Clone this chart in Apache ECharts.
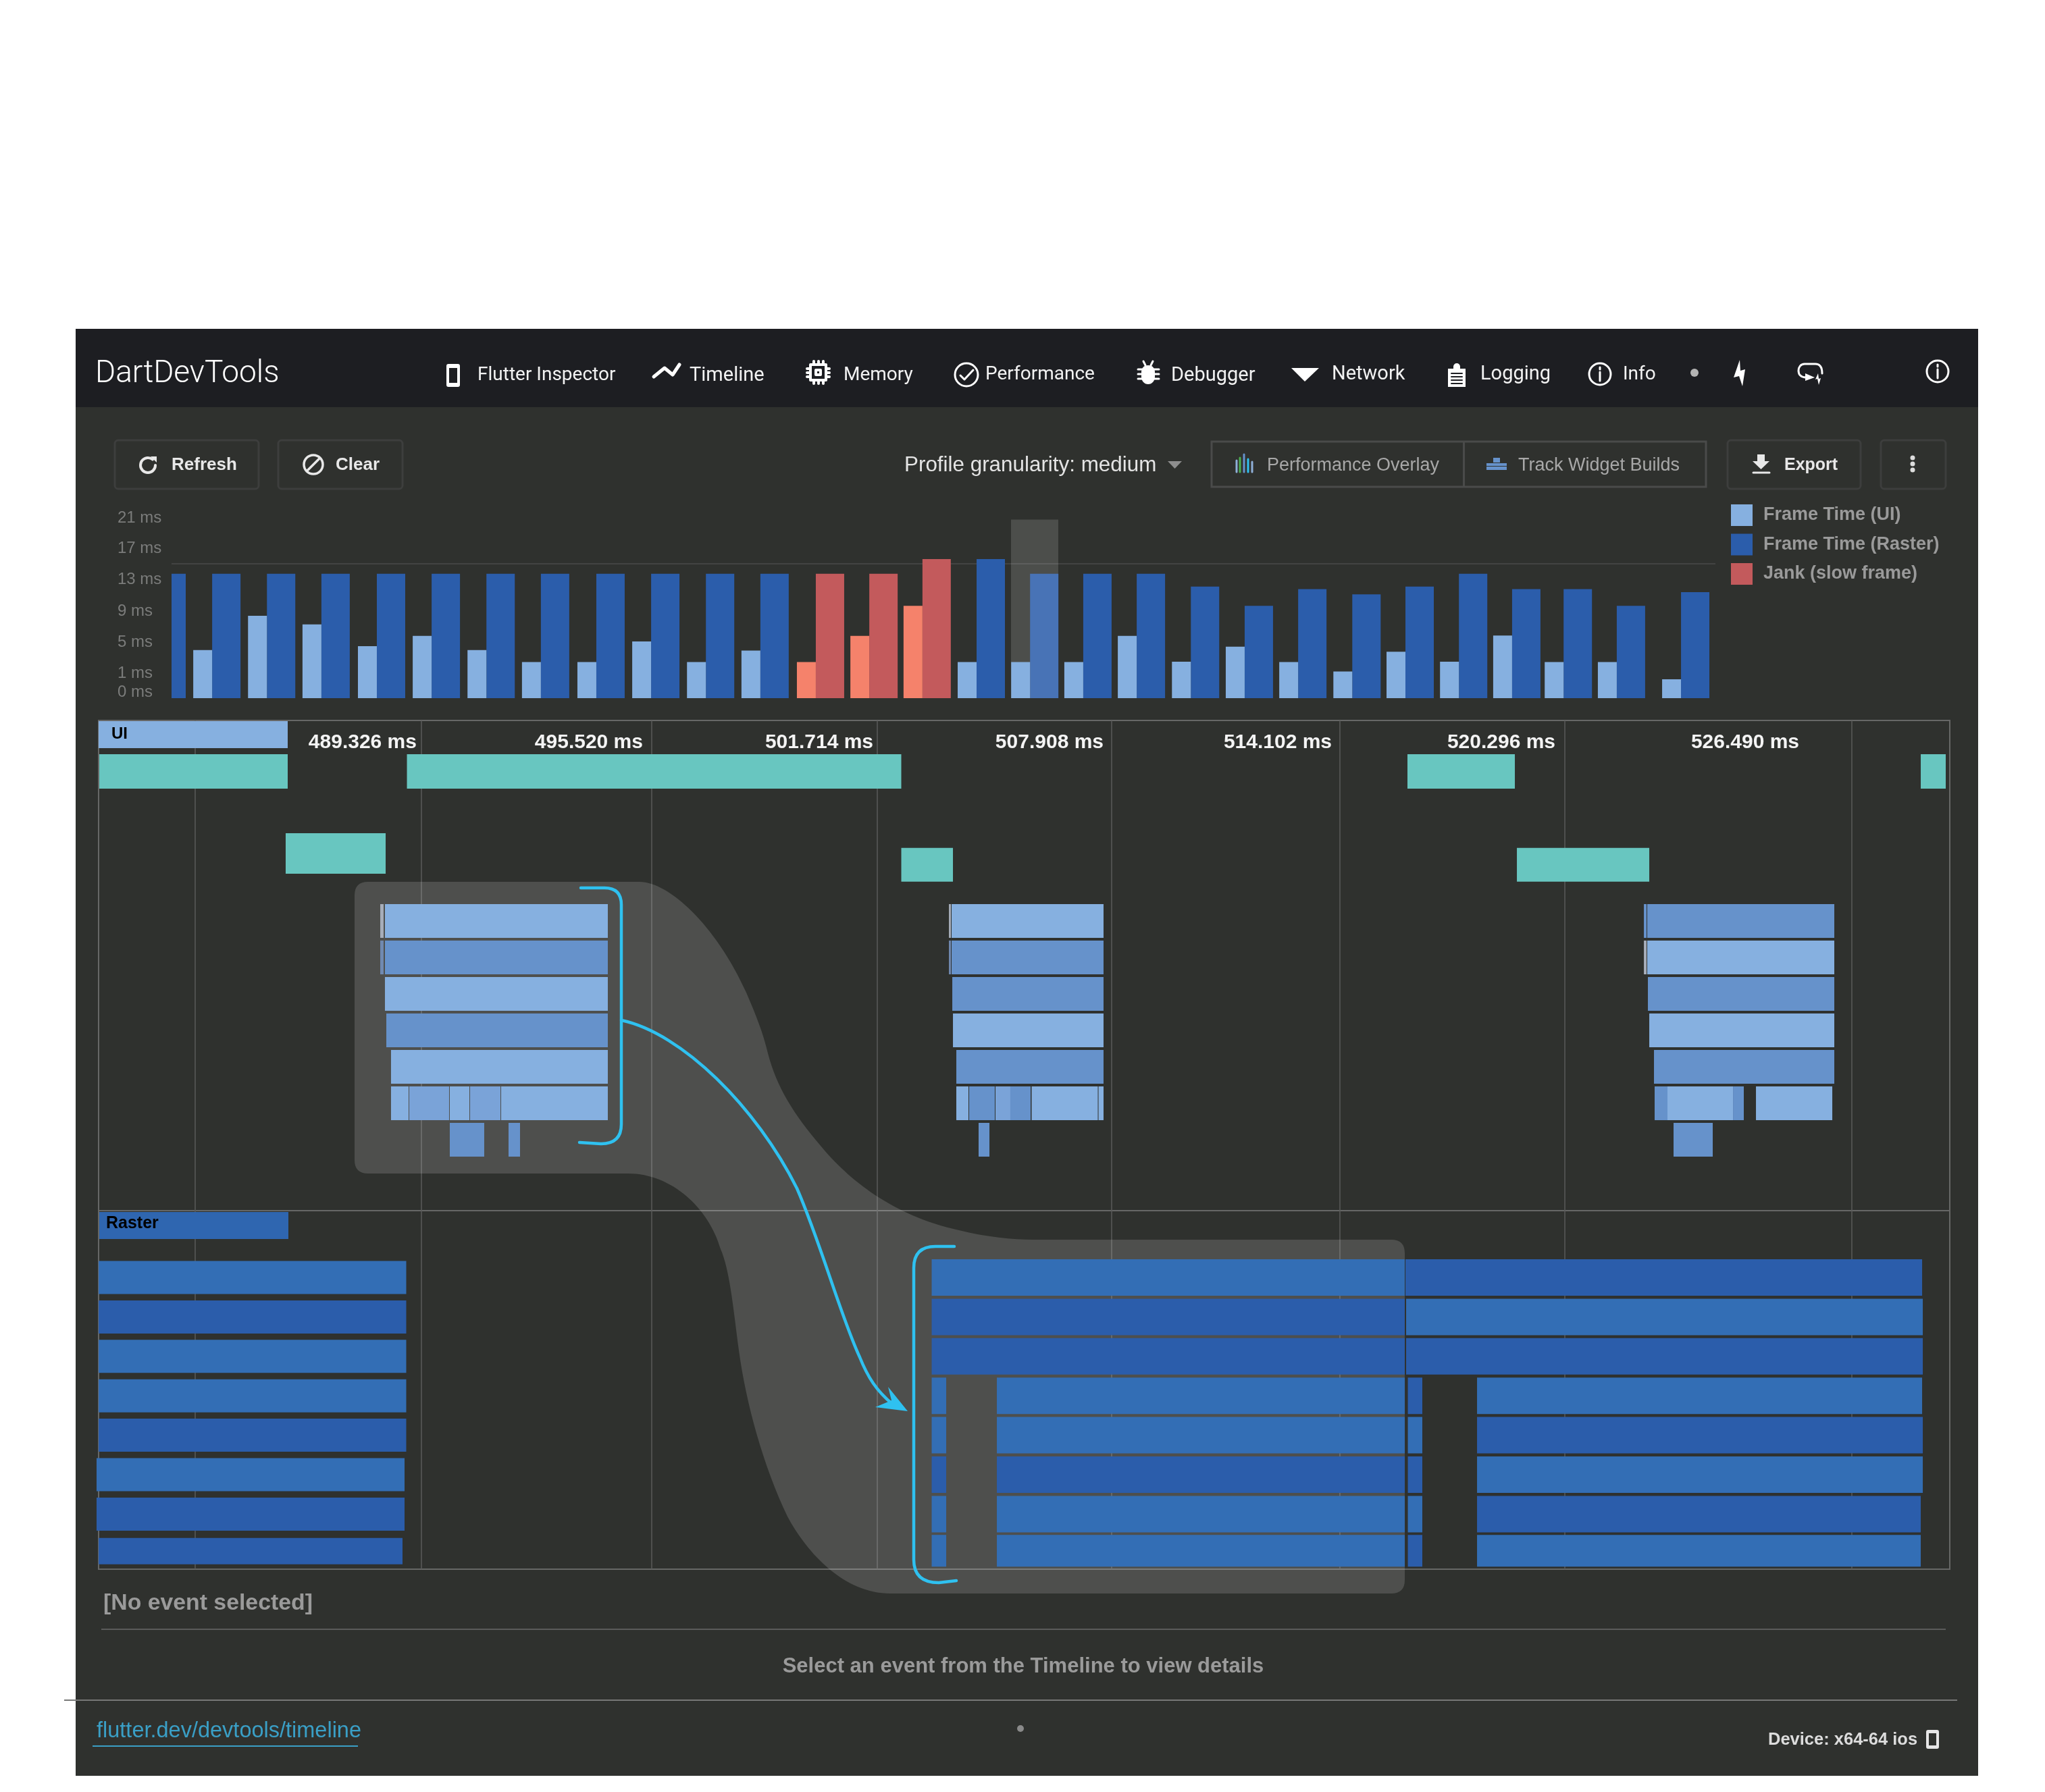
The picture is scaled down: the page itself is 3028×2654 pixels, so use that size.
<!DOCTYPE html>
<html>
<head>
<meta charset="utf-8">
<title>DartDevTools</title>
<script src="https://cdn.jsdelivr.net/npm/echarts@6/dist/echarts.min.js"></script>
<style>
html, body { margin: 0; padding: 0; background: #fff; }
#chart { width: 3028px; height: 2654px; }
</style>
</head>
<body>
<div id="chart"></div>
<script>
// frame chart
const frameStart = [13.9, 30.7, 47.4, 64.4, 81.2, 98.0, 114.7, 131.7, 148.5, 165.3, 182.0, 199.0, 215.4, 231.7,
    248.3, 264.7, 281.0, 297.4, 314.0, 330.5, 346.9, 363.5, 379.8, 396.2, 412.5, 428.3, 444.6, 464.3];
const uiTimes = [5.6, 9.6, 8.6, 6.05, 7.26, 5.6, 4.2, 4.2, 6.6, 4.2, 5.55, 4.2, 7.26, 10.75,
    4.2, 4.2, 4.2, 7.26, 4.25, 6.0, 4.2, 3.1, 5.4, 4.25, 7.3, 4.2, 4.2, 2.2];
const rasterTimes = [14.5, 14.5, 14.5, 14.5, 14.5, 14.5, 14.5, 14.5, 14.5, 14.5, 14.5, 14.5, 14.5, 16.2,
    16.2, 14.5, 14.5, 14.5, 13.0, 10.75, 12.7, 12.1, 13.0, 14.5, 12.7, 12.7, 10.75, 12.35];
const cutOffFrame = [0, 4.35, 14.5];   // raster bar cut by the left edge: start, end, time
const jankFrames = [11, 12, 13];
const selectedFrame = [257.4, 271.9];
const frameTickLabels = ['0 ms', '1 ms', '5 ms', '9 ms', '13 ms', '17 ms', '21 ms'];
const frameTickAt = [0.7, 2.9, 6.5, 10.1, 13.8, 17.4, 21];
const jankLine = 15.67;

// timeline, each event is [start ms, end ms, row, shade]
const timeLabels = ['489.326 ms', '495.520 ms', '501.714 ms', '507.908 ms', '514.102 ms', '520.296 ms', '526.490 ms'];
const timeLabelAt = [489.344, 495.447, 501.660, 507.872, 514.030, 520.060, 526.637];
const timeLines = [483.223, 489.326, 495.538, 501.623, 507.945, 514.102, 520.169, 527.911];

const vsyncTop = [[480.636, 485.719, -4.1, 0], [488.935, 502.270, -4.1, 0], [515.924, 518.821, -4.1, 0], [529.770, 530.444, -4.1, 0]];
const vsyncLeft = [[485.664, 488.361, -1.85, 0]];
const vsyncOther = [[502.270, 503.664, -1.54, 0], [518.876, 522.447, -1.54, 0]];

const uiFrameA = [
    [488.215, 488.306, 0, 2], [488.215, 488.306, 1, 3],
    [488.342, 494.354, 0, 0], [488.342, 494.354, 1, 1], [488.342, 494.354, 2, 0], [488.379, 494.354, 3, 1], [488.506, 494.354, 4, 0],
    [488.506, 488.980, 5, 0], [488.998, 490.073, 5, 4], [490.091, 490.620, 5, 0], [490.638, 491.458, 5, 4], [491.476, 494.354, 5, 0],
    [490.091, 491.020, 6, 1], [491.676, 491.986, 6, 1]
];
const uiFrameB = [
    [503.555, 503.609, 0, 2], [503.555, 503.609, 1, 3],
    [503.627, 507.726, 0, 0], [503.627, 507.726, 1, 1], [503.646, 507.726, 2, 1], [503.664, 507.726, 3, 0], [503.755, 507.726, 4, 1],
    [503.755, 504.083, 5, 0], [504.101, 504.793, 5, 1], [504.811, 505.212, 5, 4], [505.212, 505.759, 5, 1], [505.786, 507.572, 5, 0], [507.590, 507.726, 5, 0],
    [504.356, 504.648, 6, 1]
];
const uiFrameC = [
    [522.301, 522.374, 0, 1], [522.301, 522.374, 1, 2],
    [522.392, 527.438, 0, 1], [522.392, 527.438, 1, 0], [522.410, 527.438, 2, 1], [522.447, 527.438, 3, 0], [522.574, 527.438, 4, 1],
    [522.592, 522.938, 5, 1], [522.938, 524.706, 5, 0], [524.706, 524.997, 5, 1], [525.325, 527.384, 5, 0],
    [523.102, 524.159, 6, 1]
];
const rasterFrameA = [
    [480.618, 488.916, 0, 6], [480.618, 488.916, 1, 5], [480.618, 488.916, 2, 6], [480.618, 488.916, 3, 6], [480.618, 488.916, 4, 5],
    [480.563, 488.871, 5, 6], [480.563, 488.871, 6, 5]
];
const rasterFrameALast = [[480.618, 488.816, 6.94, 5]];
const rasterFrameB = [
    [503.090, 515.852, 0, 6], [515.870, 529.807, 0, 5],
    [503.090, 515.852, 1, 5], [515.888, 529.825, 1, 6],
    [503.090, 515.852, 2, 5], [515.888, 529.825, 2, 5],
    [503.090, 503.482, 3, 6], [504.848, 515.852, 3, 6], [515.934, 516.325, 3, 5], [517.801, 529.807, 3, 6],
    [503.090, 503.482, 4, 6], [504.848, 515.852, 4, 6], [515.934, 516.325, 4, 6], [517.801, 529.825, 4, 5],
    [503.090, 503.482, 5, 5], [504.848, 515.852, 5, 5], [515.934, 516.325, 5, 5], [517.801, 529.825, 5, 6],
    [503.090, 503.482, 6, 6], [504.848, 515.852, 6, 6], [515.934, 516.325, 6, 6], [517.801, 529.770, 6, 5]
];
const rasterFrameBLast = [[503.090, 503.482, 6.93, 6], [504.848, 515.852, 6.93, 6], [515.934, 516.325, 6.93, 5], [517.801, 529.770, 6.93, 6]];

const shades = ['#86b0e0', '#6692cb', '#a6adb9', '#7089b0', '#7aa3d8', '#2b5dab', '#336eb5'];

const SANS = '"Liberation Sans", Arial, sans-serif';
const HEAD = 'Roboto, sans-serif';
const GREY = '#9a9a9a';
const CYAN = '#2fc1f0';

function txt(x, y, text, size, fill, weight, align, family) {
    return {
        type: 'text', z: 20, silent: true,
        style: {
            x: x, y: y, text: text, fill: fill,
            font: (weight || 'normal') + ' ' + size + 'px ' + (family || SANS),
            align: align || 'left', verticalAlign: 'middle',
            textAlign: align || 'left', textVerticalAlign: 'middle'
        }
    };
}
function box(x, y, w, h, fill, stroke, lw, r, z) {
    return {
        type: 'rect', z: z === undefined ? -5 : z, silent: true,
        shape: { x: x, y: y, width: w, height: h, r: r || 0 },
        style: { fill: fill || 'none', stroke: stroke || 'none', lineWidth: lw || 0 }
    };
}
function dot(cx, cy, r, fill) {
    return { type: 'circle', z: 20, silent: true, shape: { cx: cx, cy: cy, r: r }, style: { fill: fill } };
}
function info(cx, cy, r) {
    return [
        { d: 'M' + (cx - r) + ' ' + cy + 'a' + r + ' ' + r + ' 0 1 0 ' + (2 * r) + ' 0a' + r + ' ' + r + ' 0 1 0 ' + (-2 * r) + ' 0z', stroke: '#fff', w: 3 },
        { d: 'M' + cx + ' ' + (cy - 3) + 'v13', stroke: '#fff', w: 3 },
        { d: 'M' + cx + ' ' + (cy - 10) + 'v3', stroke: '#fff', w: 3 }
    ];
}

const chrome = [
    box(112, 487, 2817, 2143, '#2f312e', null, 0, 0, -10),
    box(112, 487, 2817, 116, '#1d1e22', null, 0, 0, -9),
    // toolbar buttons
    box(170, 652, 213, 72, 'none', '#3d3e3d', 3, 5),
    box(412, 652, 184, 72, 'none', '#3d3e3d', 3, 5),
    box(1794, 654, 732, 67, 'none', '#4a4b4a', 3, 0),
    box(2167, 654, 1, 67, 'none', '#4a4b4a', 2, 0),
    box(2558, 652, 197, 72, 'none', '#3d3e3d', 3, 5),
    box(2785, 652, 96, 72, 'none', '#3d3e3d', 3, 5),
    // thread labels
    box(146, 1068, 280, 40, '#86b0e0', null, 0, 0, 4),
    box(147, 1795, 280, 40, '#2f66b0', null, 0, 0, 4),
    // footer rules
    box(150, 2412, 2731, 2, '#5a5b5a', null, 0, 0, -4),
    box(95, 2517, 2803, 2, '#777877', null, 0, 0, -4),
    box(137, 2585, 393, 2, '#3a9fc6', null, 0, 0, -4),
    // header
    txt(141, 554, 'DartDevTools', 46, '#fff', '300', 'left', HEAD),
    txt(707, 556, 'Flutter Inspector', 28, '#f2f2f2', 'normal', 'left', HEAD),
    txt(1021, 557, 'Timeline', 29, '#f2f2f2', 'normal', 'left', HEAD),
    txt(1249, 556, 'Memory', 28, '#f2f2f2', 'normal', 'left', HEAD),
    txt(1459, 555, 'Performance', 28, '#f2f2f2', 'normal', 'left', HEAD),
    txt(1734, 557, 'Debugger', 29, '#f2f2f2', 'normal', 'left', HEAD),
    txt(1972, 555, 'Network', 29, '#f2f2f2', 'normal', 'left', HEAD),
    txt(2192, 555, 'Logging', 29, '#f2f2f2', 'normal', 'left', HEAD),
    txt(2403, 555, 'Info', 28, '#f2f2f2', 'normal', 'left', HEAD),
    // toolbar
    txt(254, 689, 'Refresh', 26, '#e8e8e8', 'bold'),
    txt(497, 689, 'Clear', 26, '#e8e8e8', 'bold'),
    txt(1339, 689, 'Profile granularity: medium', 31.4, '#e4e4e4', 'normal'),
    txt(1876, 690, 'Performance Overlay', 27, '#a8a8a8', 'normal'),
    txt(2248, 690, 'Track Widget Builds', 27, '#a8a8a8', 'normal'),
    txt(2642, 689, 'Export', 25, '#e8e8e8', 'bold'),
    // thread names
    txt(165, 1087, 'UI', 24, '#000', 'bold'),
    txt(157, 1812, 'Raster', 25, '#000', 'bold'),
    // footer
    txt(153, 2375, '[No event selected]', 33.8, GREY, 'bold'),
    txt(1515, 2468, 'Select an event from the Timeline to view details', 31, GREY, 'bold', 'center'),
    txt(143, 2564, 'flutter.dev/devtools/timeline', 32.5, '#3a9fc6', 'normal'),
    txt(2618, 2577, 'Device: x64-64 ios', 25.500, '#dcdcdc', 'bold'),
    dot(1511, 2560, 5, '#8a8a8a'),
    dot(2509, 552, 6, '#b4b4b4'),
    dot(2832, 678, 3.5, '#ddd'),
    dot(2832, 687, 3.5, '#ddd'),
    dot(2832, 696, 3.5, '#ddd')
];

const icons = [
    { d: 'M664 539h14a3 3 0 0 1 3 3v28a3 3 0 0 1-3 3h-14a3 3 0 0 1-3-3v-28a3 3 0 0 1 3-3zM665 545v22h12v-22z', fill: '#fff' },
    { d: 'M968 558L984 545L996 555L1006 540', stroke: '#fff', w: 5 },
    { d: 'M1200 540h23v23h-23zM1208 548h7v7h-7z', stroke: '#fff', w: 4 },
    { d: 'M1195 546h4M1195 552h4M1195 558h4M1224 546h4M1224 552h4M1224 558h4M1205 535v4M1212 535v4M1219 535v4M1205 564v4M1212 564v4M1219 564v4', stroke: '#fff', w: 4 },
    { d: 'M1414 555a17 17 0 1 0 34 0a17 17 0 1 0 -34 0z', stroke: '#fff', w: 3 },
    { d: 'M1422 556l6 6l13 -14', stroke: '#fff', w: 3 },
    { d: 'M1700 541c7 0 10 5 10 10v7c0 6-4 11-10 11s-10-5-10-11v-7c0-5 3-10 10-10z', fill: '#fff' },
    { d: 'M1685 547h31M1685 554h31M1685 561h31M1693 535l3 6M1707 535l-3 6', stroke: '#fff', w: 3 },
    { d: 'M1912 545H1953L1932 565Z', fill: '#fff' },
    { d: 'M2144 546h26v27h-26zM2152 546v-3a5 5 0 0 1 10 0v3z', fill: '#fff' },
    { d: 'M2149 553h16M2149 558h16M2149 563h16M2149 568h16', stroke: '#1d1e22', w: 2 },
    { d: 'M2576 533L2567 559L2575 557L2580 572L2584 547L2577 549Z', fill: '#fff' },
    { d: 'M2698 553C2698 544 2695 539 2688 539H2672C2666 539 2663 544 2663 549C2663 555 2667 559 2674 559', stroke: '#fff', w: 3 },
    { d: 'M2673 553L2687 559L2673 564Z', fill: '#fff' },
    { d: 'M2692 553L2688 562L2691 561L2693 570L2696 560L2693 561Z', fill: '#fff' },
    // toolbar
    { d: 'M230 689a11 11 0 1 1 -4 -8.500', stroke: '#e8e8e8', w: 4 },
    { d: 'M223 676h9v9z', fill: '#e8e8e8' },
    { d: 'M450 688a14 14 0 1 0 28 0a14 14 0 1 0 -28 0zM454 698l20 -20', stroke: '#e8e8e8', w: 3.5 },
    { d: 'M1729 683h21l-10.500 11z', fill: '#8e8e8e' },
    { d: 'M1831 682v17', stroke: '#8fb0d8', w: 3 },
    { d: 'M1836 678v21', stroke: '#4caf50', w: 3 },
    { d: 'M1842 673v26', stroke: '#6692cb', w: 3 },
    { d: 'M1848 680v19', stroke: '#2fc1f0', w: 3 },
    { d: 'M1854 684v15', stroke: '#8fb0d8', w: 3 },
    { d: 'M2211 678h10v7h-10zM2201 686h30v4h-30zM2201 691h30v5h-30z', fill: '#6692cb' },
    { d: 'M2602 673h11v10h7l-12.500 12l-12.500-12h7z', fill: '#e8e8e8' },
    { d: 'M2596 700h24', stroke: '#e8e8e8', w: 3 },
    { d: 'M2855 2562h13a3 3 0 0 1 3 3v22a3 3 0 0 1-3 3h-13a3 3 0 0 1-3-3v-22a3 3 0 0 1 3-3zM2856 2567v18h11v-18z', fill: '#e6e6e6' }
].concat(info(2369, 554, 16), info(2869, 550, 16));

const overlayPath = 'M525 1326Q525 1306 545 1306L947 1306C990 1306 1060 1370 1105 1470C1120 1505 1130 1530 1137 1560'
    + 'C1150 1610 1175 1650 1216 1698C1255 1745 1320 1800 1420 1822C1460 1832 1500 1836 1530 1836L2060 1836Q2080 1836 2080 1856'
    + 'L2080 2340Q2080 2360 2060 2360L1318 2360C1250 2360 1195 2300 1166 2246C1130 2170 1105 2080 1094 2000'
    + 'C1085 1930 1080 1880 1067 1850C1050 1790 995 1738 930 1738L545 1738Q525 1738 525 1718Z';

const annotations = [
    { d: 'M860 1315H895Q920 1315 920 1340V1665Q920 1694 890 1694L858 1692', stroke: CYAN, w: 4.5 },
    { d: 'M1413 1846H1385Q1353 1846 1353 1878V2310Q1353 2344 1390 2344L1416 2341', stroke: CYAN, w: 4.5 },
    { d: 'M920 1511C1010 1530 1120 1640 1180 1760C1215 1840 1245 1950 1273 2010C1285 2040 1298 2060 1322 2080', stroke: CYAN, w: 4.5 },
    { d: 'M1344 2090L1315 2054L1320 2074L1296 2084Z', fill: CYAN }
];

// px layer drawn once through a custom series
function pathSeries(name, list, z) {
    return {
        name: name, type: 'custom', coordinateSystem: 'none', silent: true, z: z,
        data: [[0]],
        renderItem: function () {
            return {
                type: 'group',
                children: list.map(function (p) {
                    return {
                        type: 'path',
                        shape: { pathData: p.d },
                        style: { fill: p.fill || 'none', stroke: p.stroke || 'none', lineWidth: p.w || 0, lineCap: 'round', lineJoin: 'round' }
                    };
                })
            };
        }
    };
}

function eventSeries(name, data, axis, height) {
    return {
        name: name, type: 'custom', xAxisIndex: axis, yAxisIndex: axis, silent: true, z: 3,
        encode: { x: [0, 1], y: 2 },
        data: data,
        renderItem: function (params, api) {
            const a = api.coord([api.value(0), api.value(2)]);
            const b = api.coord([api.value(1), api.value(2)]);
            return {
                type: 'rect',
                shape: { x: a[0], y: a[1] - height / 2, width: b[0] - a[0], height: height },
                style: { fill: name.indexOf('vsync') === 0 ? '#68c6c0' : shades[api.value(3)] }
            };
        }
    };
}

function gridLines(axis) {
    return {
        name: 'timeLines' + axis, type: 'custom', xAxisIndex: axis, yAxisIndex: axis, silent: true, z: 1,
        data: timeLines.map(function (t) { return [t]; }),
        encode: { x: 0 },
        renderItem: function (params, api) {
            const x = api.coord([api.value(0), 0])[0];
            return {
                type: 'line',
                shape: { x1: x, x2: x, y1: params.coordSys.y, y2: params.coordSys.y + params.coordSys.height },
                style: { stroke: '#5a5b5a', lineWidth: 1.5 }
            };
        }
    };
}

const timeMin = 480.618, timeMax = 530.553;

const option = {
    backgroundColor: '#fff',
    animation: false,
    graphic: { elements: chrome },
    legend: {
        orient: 'vertical', left: 2563, top: 747, padding: 0, itemWidth: 32, itemHeight: 32, itemGap: 11.5,
        icon: 'rect', selectedMode: false,
        textStyle: { color: GREY, fontFamily: SANS, fontSize: 27, fontWeight: 'bold', padding: [11, 0, 0, 11] },
        data: ['Frame Time (UI)', 'Frame Time (Raster)', 'Jank (slow frame)']
    },
    grid: [
        { left: 254, top: 767, width: 2286, height: 267 },
        { left: 146, top: 1067, width: 2741, height: 726, show: true, borderColor: '#666766', borderWidth: 2, backgroundColor: 'transparent' },
        { left: 146, top: 1793, width: 2741, height: 531, show: true, borderColor: '#666766', borderWidth: 2, backgroundColor: 'transparent' }
    ],
    xAxis: [
        { type: 'value', gridIndex: 0, min: 0, max: 473.4, show: false },
        {
            type: 'value', gridIndex: 1, min: timeMin, max: timeMax, position: 'top',
            axisLine: { show: false }, axisTick: { show: false }, splitLine: { show: false },
            axisLabel: {
                inside: true, margin: 18, align: 'right', customValues: timeLabelAt,
                color: '#f4f4f4', fontFamily: SANS, fontSize: 30, fontWeight: 'bold', padding: [0, 8, 0, 0],
                formatter: function (v) { return timeLabels[timeLabelAt.indexOf(v)]; }
            }
        },
        { type: 'value', gridIndex: 2, min: timeMin, max: timeMax, show: false }
    ],
    yAxis: [
        {
            type: 'value', gridIndex: 0, min: 0, max: 21,
            axisLine: { show: false }, axisTick: { show: false }, splitLine: { show: false },
            axisLabel: {
                align: 'left', margin: 80, customValues: frameTickAt,
                color: '#7b7c7b', fontFamily: SANS, fontSize: 24,
                formatter: function (v) { return frameTickLabels[frameTickAt.indexOf(v)]; }
            }
        },
        { type: 'value', gridIndex: 1, min: -5.5, max: 7.945, inverse: true, show: false },
        { type: 'value', gridIndex: 2, min: -1.695, max: 7.397, inverse: true, show: false }
    ],
    series: [
        {
            name: 'Frame Time (UI)', type: 'bar', xAxisIndex: 0, yAxisIndex: 0, barWidth: 28, barGap: 0, z: 5, silent: true,
            itemStyle: { color: '#86b0e0' },
            data: frameStart.map(function (x, i) {
                return { value: [x, uiTimes[i]], itemStyle: jankFrames.indexOf(i) >= 0 ? { color: '#f5826b' } : undefined };
            })
        },
        {
            name: 'Frame Time (Raster)', type: 'bar', xAxisIndex: 0, yAxisIndex: 0, barWidth: 42, barGap: 0, z: 3, silent: true,
            itemStyle: { color: '#2b5dab' },
            data: frameStart.map(function (x, i) {
                return { value: [x, rasterTimes[i]], itemStyle: jankFrames.indexOf(i) >= 0 ? { color: '#c35a5c' } : undefined };
            }),
            markLine: {
                z: 1, silent: true, symbol: 'none', label: { show: false },
                lineStyle: { color: '#434443', width: 2, type: 'solid' },
                data: [{ yAxis: jankLine }]
            },
            markArea: {
                z: 4, silent: true, itemStyle: { color: 'rgba(255,255,255,0.14)' },
                data: [[{ xAxis: selectedFrame[0], yAxis: 0 }, { xAxis: selectedFrame[1], yAxis: 20.8 }]]
            }
        },
        {
            name: 'cutOffFrame', type: 'custom', xAxisIndex: 0, yAxisIndex: 0, silent: true, z: 3,
            encode: { x: [0, 1], y: 2 },
            data: [cutOffFrame],
            renderItem: function (params, api) {
                const a = api.coord([api.value(0), api.value(2)]);
                const b = api.coord([api.value(1), 0]);
                return {
                    type: 'rect',
                    shape: { x: a[0], y: a[1], width: b[0] - a[0], height: b[1] - a[1] },
                    style: { fill: '#2b5dab' }
                };
            }
        },
        {
            name: 'Jank (slow frame)', type: 'line', xAxisIndex: 0, yAxisIndex: 0, data: [], silent: true,
            itemStyle: { color: '#c35a5c' }, lineStyle: { color: '#c35a5c' }
        },
        gridLines(1),
        gridLines(2),
        pathSeries('selection', [{ d: overlayPath, fill: 'rgba(255,255,255,0.15)' }], 2),
        eventSeries('vsyncTop', vsyncTop, 1, 51),
        eventSeries('vsyncLeft', vsyncLeft, 1, 60),
        eventSeries('vsyncOther', vsyncOther, 1, 50),
        eventSeries('uiFrameA', uiFrameA, 1, 50),
        eventSeries('uiFrameB', uiFrameB, 1, 50),
        eventSeries('uiFrameC', uiFrameC, 1, 50),
        eventSeries('rasterFrameA', rasterFrameA, 2, 49),
        eventSeries('rasterFrameALast', rasterFrameALast, 2, 39),
        eventSeries('rasterFrameB', rasterFrameB, 2, 54),
        eventSeries('rasterFrameBLast', rasterFrameBLast, 2, 47),
        pathSeries('annotations', annotations, 6),
        pathSeries('icons', icons, 7)
    ]
};

const chart = echarts.init(document.getElementById('chart'), null, { renderer: 'canvas', width: 3028, height: 2654 });
chart.setOption(option);
</script>
</body>
</html>
